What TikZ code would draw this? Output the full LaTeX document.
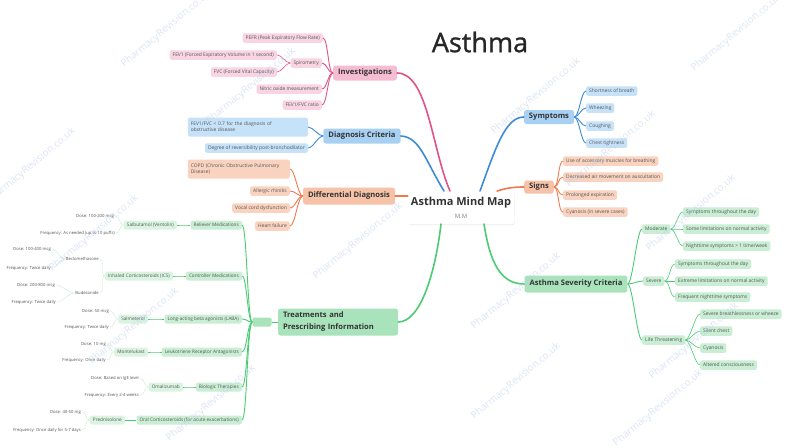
\documentclass[tikz,border=0pt]{standalone}
\usepackage{fontspec}
\setmainfont{Open Sans}
\usetikzlibrary{shadows}
\definecolor{txt}{HTML}{333333}
\definecolor{leaftxt}{HTML}{555555}
\definecolor{pinkLn}{HTML}{E2528A}
\definecolor{pinkF}{HTML}{F5BCD2}
\definecolor{pinkLf}{HTML}{F9D5E3}
\definecolor{blueLn}{HTML}{3D8BD9}
\definecolor{blueF}{HTML}{A8D0F2}
\definecolor{blueLf}{HTML}{C6E2F9}
\definecolor{orLn}{HTML}{EE7A4E}
\definecolor{orF}{HTML}{F6C2A8}
\definecolor{orLf}{HTML}{F9D3C0}
\definecolor{grLn}{HTML}{4CCB75}
\definecolor{grF}{HTML}{A9E3BC}
\definecolor{grLf}{HTML}{C9EED4}
\definecolor{grLf2}{HTML}{DBF4E2}
\definecolor{wmc}{HTML}{B9CBEC}
\newcommand\linkL[3][]{\draw[#1] (#2.west) .. controls ([xshift=-5pt]#2.west) and ([xshift=5pt]#3.east) .. (#3.east);}
\newcommand\linkR[3][]{\draw[#1] (#2.east) .. controls ([xshift=5pt]#2.east) and ([xshift=-5pt]#3.west) .. (#3.west);}
\begin{document}
\begin{tikzpicture}[x=1pt,y=-1pt,
  mainbox/.style={rounded corners=2.5pt, font=\fontsize{7.6}{8.5}\selectfont\bfseries, text=txt, inner xsep=5pt, inner ysep=0pt, minimum height=15pt},
  leaf/.style={rounded corners=2pt, font=\fontsize{4.9}{6}\selectfont, text=leaftxt, inner xsep=3pt, inner ysep=0pt, minimum height=9.5pt},
  tleaf/.style={rounded corners=2pt, font=\fontsize{4.7}{5.5}\selectfont, text=leaftxt, inner xsep=3pt, inner ysep=0pt, minimum height=9pt},
  plain/.style={font=\fontsize{4.2}{4.8}\selectfont, text=leaftxt, inner sep=1pt, anchor=east},
  brmain/.style={line width=1.6pt, line cap=round},
  brsub/.style={line width=0.9pt},
  brleaf/.style={line width=0.6pt},
  wm/.style={font=\fontsize{10}{10}\selectfont, text=wmc, opacity=0.5, rotate=40, anchor=west}
]
\useasboundingbox[fill=white] (0,0) rectangle (794,447);

% title
\node[font=\fontsize{27}{29}\selectfont\addfontfeature{FakeBold=1}, text=black!85] (title) at (480,42) {Asthma};

% centre
\node[fill=white, drop shadow={opacity=0.12, shadow xshift=0.5pt, shadow yshift=-1pt}, rounded corners=2pt, minimum width=106pt, minimum height=33pt, inner sep=0pt, align=center] (cm) at (461,207.5) {\fontsize{11}{13}\selectfont\bfseries\color{txt}Asthma Mind Map\\[1pt]{\fontsize{6}{7}\selectfont\mdseries\color{gray}M.M}};

% ---------- Investigations
\node[mainbox, fill=pinkF] (inv) at (365,73) {Investigations};
\node[leaf, fill=pinkLf, anchor=east] (pefr) at (323,38) {PEFR (Peak Expiratory Flow Rate)};
\node[leaf, fill=pinkLf, anchor=east] (spiro) at (322,63) {Spirometry};
\node[leaf, fill=pinkLf, anchor=east] (fev1) at (277,55) {FEV1 (Forced Expiratory Volume in 1 second)};
\node[leaf, fill=pinkLf, anchor=east] (fvc) at (277,72) {FVC (Forced Vital Capacity)};
\node[leaf, fill=pinkLf, anchor=east] (nom) at (322,89) {Nitric oxide measurement};
\node[leaf, fill=pinkLf, anchor=east] (ratio) at (322,105) {FEV1/FVC ratio};

% ---------- Diagnosis
\node[mainbox, fill=blueF] (diag) at (362,136) {Diagnosis Criteria};
\node[leaf, fill=blueLf, anchor=east, align=left, text width=114pt, minimum height=19pt] (dc1) at (308,127) {FEV1/FVC < 0.7 for the diagnosis of\\obstructive disease};
\node[leaf, fill=blueLf, anchor=east] (dc2) at (308,148) {Degree of reversibility post-bronchodilator};

% ---------- Differential
\node[mainbox, fill=orF, minimum height=17pt] (diff) at (349,196) {Differential Diagnosis};
\node[leaf, fill=orLf, anchor=east, align=left, text width=96pt, minimum height=19pt] (copd) at (290,169) {COPD (Chronic Obstructive Pulmonary\\Disease)};
\node[leaf, fill=orLf, anchor=east] (rhin) at (290,191) {Allergic rhinitis};
\node[leaf, fill=orLf, anchor=east] (vcd) at (290,208) {Vocal cord dysfunction};
\node[leaf, fill=orLf, anchor=east] (hf) at (290,226) {Heart failure};

% ---------- Symptoms
\node[mainbox, fill=blueF, minimum height=14pt] (sym) at (549,117) {Symptoms};
\node[leaf, fill=blueLf, anchor=west] (sob) at (586,91) {Shortness of breath};
\node[leaf, fill=blueLf, anchor=west] (whz) at (586,108) {Wheezing};
\node[leaf, fill=blueLf, anchor=west] (cgh) at (586,126) {Coughing};
\node[leaf, fill=blueLf, anchor=west] (cht) at (586,143) {Chest tightness};

% ---------- Signs
\node[mainbox, fill=orF, minimum height=13pt] (signs) at (539,187) {Signs};
\node[leaf, fill=orLf, anchor=west] (acc) at (563,161) {Use of accessory muscles for breathing};
\node[leaf, fill=orLf, anchor=west] (dec) at (563,177) {Decreased air movement on auscultation};
\node[leaf, fill=orLf, anchor=west] (pro) at (563,195) {Prolonged expiration};
\node[leaf, fill=orLf, anchor=west] (cya) at (563,212) {Cyanosis (in severe cases)};

% ---------- Severity
\node[mainbox, fill=grF, minimum height=17pt] (sev) at (576,284) {Asthma Severity Criteria};
\node[leaf, fill=grLf, anchor=west] (mod) at (642,229) {Moderate};
\node[leaf, fill=grLf, anchor=west] (sevr) at (643,281) {Severe};
\node[leaf, fill=grLf, anchor=west] (life) at (642,340) {Life Threatening};
\node[leaf, fill=grLf, anchor=west] (m1) at (683,212) {Symptoms throughout the day};
\node[leaf, fill=grLf, anchor=west] (m2) at (683,229) {Some limitations on normal activity};
\node[leaf, fill=grLf, anchor=west] (m3) at (683,246) {Nighttime symptoms > 1 time/week};
\node[leaf, fill=grLf, anchor=west] (s1) at (675,264) {Symptoms throughout the day};
\node[leaf, fill=grLf, anchor=west] (s2) at (675,281) {Extreme limitations on normal activity};
\node[leaf, fill=grLf, anchor=west] (s3) at (675,297) {Frequent nighttime symptoms};
\node[leaf, fill=grLf, anchor=west] (l1) at (700,314) {Severe breathlessness or wheeze};
\node[leaf, fill=grLf, anchor=west] (l2) at (700,331) {Silent chest};
\node[leaf, fill=grLf, anchor=west] (l3) at (700,348) {Cyanosis};
\node[leaf, fill=grLf, anchor=west] (l4) at (700,365) {Altered consciousness};

% ---------- Treatments
\node[mainbox, fill=grF, align=left, text width=110pt, minimum height=27pt, font=\fontsize{7.6}{12}\selectfont\bfseries] (treat) at (338,322) {Treatments and\\Prescribing Information};
\node[fill=grF, rounded corners=2pt, minimum width=19pt, minimum height=9pt, inner sep=0pt] (junc) at (262,322) {};
\node[tleaf, fill=grLf, anchor=east] (rel) at (242,225) {Reliever Medications};
\node[tleaf, fill=grLf, anchor=east] (ctrl) at (242,276) {Controller Medications};
\node[tleaf, fill=grLf, anchor=east] (laba) at (242,319) {Long-acting beta agonists (LABA)};
\node[tleaf, fill=grLf, anchor=east] (lra) at (242,352) {Leukotriene Receptor Antagonists};
\node[tleaf, fill=grLf, anchor=east] (bio) at (242,387) {Biologic Therapies};
\node[tleaf, fill=grLf, anchor=east] (ocs) at (242,420) {Oral Corticosteroids (for acute exacerbations)};
\node[tleaf, fill=grLf2, anchor=east] (salb) at (177,225) {Salbutamol (Ventolin)};
\node[tleaf, fill=grLf2, anchor=east] (ics) at (173,276) {Inhaled Corticosteroids (ICS)};
\node[tleaf, fill=grLf2, anchor=east] (salm) at (148,319) {Salmeterol};
\node[tleaf, fill=grLf2, anchor=east] (mont) at (148,352) {Montelukast};
\node[tleaf, fill=grLf2, anchor=east] (omal) at (183,387) {Omalizumab};
\node[tleaf, fill=grLf2, anchor=east] (pred) at (125,420) {Prednisolone};
\node[plain] (sbd) at (115,216) {Dose: 100-200 mcg};
\node[plain] (sbf) at (116,233) {Frequency: As needed (up to 10 puffs)};
\node[plain] (becl) at (100,259) {Beclomethasone};
\node[plain] (bud) at (100,293) {Budesonide};
\node[plain] (bcd) at (52,249) {Dose: 100-400 mcg};
\node[plain] (bcf) at (52,268) {Frequency: Twice daily};
\node[plain] (bdd) at (56,285) {Dose: 200-800 mcg};
\node[plain] (bdf) at (57,302) {Frequency: Twice daily};
\node[plain] (smd) at (110,311) {Dose: 50 mcg};
\node[plain] (smf) at (110,327) {Frequency: Twice daily};
\node[plain] (mtd) at (107,344) {Dose: 10 mg};
\node[plain] (mtf) at (107,360) {Frequency: Once daily};
\node[plain] (omd) at (140,378) {Dose: Based on IgE level};
\node[plain] (omf) at (140,395) {Frequency: Every 2-4 weeks};
\node[plain] (prd) at (82,412) {Dose: 40-50 mg};
\node[plain] (prf) at (82,430) {Frequency: Once daily for 5-7 days};

% ---------- main branches
\draw[brmain, pinkLn] (inv.east) .. controls (428,73) and (432,150) .. (450,191);
\draw[brmain, blueLn] (diag.east) .. controls (420,137) and (425,160) .. (444,191);
\draw[brmain, orLn] (diff.east) -- (diff.east -| cm.west);
\draw[brmain, blueLn] (480,191) .. controls (495,150) and (505,117) .. (sym.west);
\draw[brmain, orLn] (497,191) .. controls (507,188) and (513,187) .. (signs.west);
\draw[brmain, grLn] (484,224) .. controls (490,262) and (500,284) .. (sev.west);
\draw[brmain, grLn] (441,224) .. controls (435,275) and (420,322) .. (treat.east);

% ---------- sub branches
\foreach \c in {pefr,spiro,nom,ratio} {\linkL[brsub,pinkLn]{inv}{\c}}
\foreach \c in {fev1,fvc} {\linkL[brleaf,pinkLn]{spiro}{\c}}
\foreach \c in {dc1,dc2} {\linkL[brsub,blueLn]{diag}{\c}}
\foreach \c in {copd,rhin,vcd,hf} {\linkL[brsub,orLn]{diff}{\c}}
\foreach \c in {sob,whz,cgh,cht} {\linkR[brsub,blueLn]{sym}{\c}}
\foreach \c in {acc,dec,pro,cya} {\linkR[brsub,orLn]{signs}{\c}}
\foreach \c in {mod,sevr,life} {\linkR[brsub,grLn]{sev}{\c}}
\foreach \c in {m1,m2,m3} {\linkR[brleaf,grLn]{mod}{\c}}
\foreach \c in {s1,s2,s3} {\linkR[brleaf,grLn]{sevr}{\c}}
\foreach \c in {l1,l2,l3,l4} {\linkR[brleaf,grLn]{life}{\c}}
\draw[brsub, grLn] (treat.west) -- (junc.east);
\foreach \c in {rel,ctrl,laba,lra,bio,ocs} {\linkL[brsub,grLn]{junc}{\c}}
\linkL[brleaf,grLn]{rel}{salb}
\linkL[brleaf,grLn]{ctrl}{ics}
\linkL[brleaf,grLn]{laba}{salm}
\linkL[brleaf,grLn]{lra}{mont}
\linkL[brleaf,grLn]{bio}{omal}
\linkL[brleaf,grLn]{ocs}{pred}
\foreach \p/\c in {salb/sbd,salb/sbf,ics/becl,ics/bud,becl/bcd,becl/bcf,bud/bdd,bud/bdf,salm/smd,salm/smf,mont/mtd,mont/mtf,omal/omd,omal/omf,pred/prd,pred/prf} {\linkL[line width=0.4pt,grLf]{\p}{\c}}

% ---------- watermarks
\foreach \x/\y in {120/68, 205/125, -15/205, 48/272, 312/280, 490/135, 565/188, 690/72, 645/252, 648/380, 88/365, 165/442, 470/420, 612/447, 470/330} {
  \node[wm] at (\x,\y) {PharmacyRevision.co.uk};
}
\end{tikzpicture}
\end{document}
